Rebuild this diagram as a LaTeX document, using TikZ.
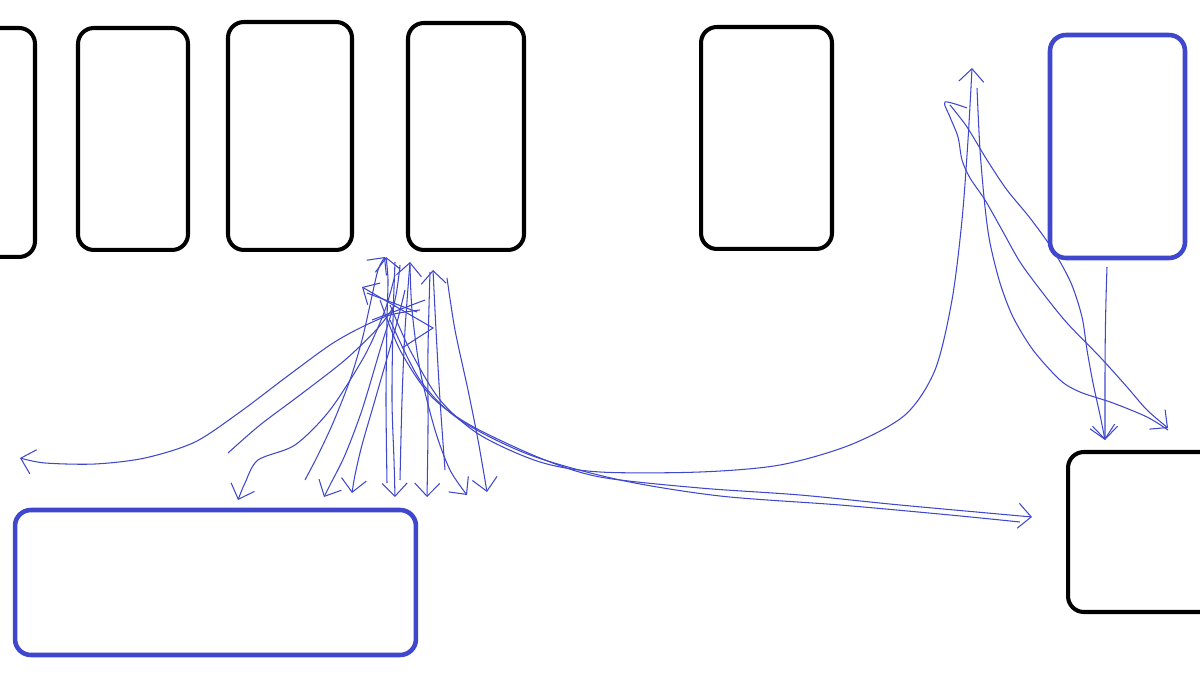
\documentclass[tikz,border=0pt]{standalone}
\usepackage{tikz}
\usetikzlibrary{arrows.meta}
\definecolor{SketchBlue}{HTML}{3F48CC}
\definecolor{NiceBlack}{HTML}{000000}

\tikzset{
  card/.style={draw=NiceBlack, line width=2.3pt, rounded corners=9pt,
    inner sep=0pt},
  bluecard/.style={card, draw=SketchBlue, line width=2.6pt},
  sketch/.style={SketchBlue, line width=0.6pt},
  tip/.style={-{Straight Barb[length=2.6mm,width=5mm]}},
}

\begin{document}
\begin{tikzpicture}[x=0.02cm, y=-0.02cm]
      \useasboundingbox (0,0) rectangle (1200,675);
      % Boxes
      \node[card, minimum width=2.6cm, minimum height=4.58cm] (left) at (-30,142.5) {};
      \node[card, minimum width=2.2cm, minimum height=4.44cm] (boxA) at (133,139) {};
      \node[card, minimum width=2.48cm, minimum height=4.56cm] (boxB) at (290,136) {};
      \node[card, minimum width=2.32cm, minimum height=4.54cm] (boxC) at (466,136.5) {};
      \node[card, minimum width=2.62cm, minimum height=4.44cm] (boxD) at (766.5,138) {};
      \node[bluecard, minimum width=2.7cm, minimum height=4.46cm] (boxE) at (1117.5,146.5) {};
      \node[card, minimum width=4.0cm, minimum height=3.2cm] (boxF) at (1168,532) {};
      \node[bluecard, minimum width=8.02cm, minimum height=2.9cm] (boxG) at (215.5,582.5) {};
      % Fan below box C
      \draw[sketch, tip] plot[smooth] coordinates {(420,310) (390,315) (360,328)
        (330,345) (285,378) (240,412) (195,442) (145,458) (95,464) (45,463) (20,458)};
      \draw[sketch] plot[smooth] coordinates {(228,453) (260,425) (300,395)
        (345,360) (378,328) (395,305)};
      \draw[sketch, tip] plot[smooth] coordinates {(395,275) (385,310) (365,355)
        (330,410) (295,445) (258,460) (245,483) (238,500)};
      \draw[sketch, tip] plot[smooth] coordinates {(305,480) (318,455) (333,423)
        (350,380) (362,340) (370,305) (378,270) (385,257)};
      \draw[sketch, tip] plot[smooth] coordinates {(400,265) (395,300) (380,350)
        (362,410) (345,455) (330,485) (324,497)};
      \draw[sketch, tip] plot[smooth] coordinates {(405,290) (395,330) (375,400)
        (362,445) (355,475) (352,493)};
      \draw[sketch, tip] plot[smooth] coordinates {(395,262) (393,320) (392,400)
        (394,460) (395,497)};
      \draw[sketch, tip] plot[smooth] coordinates {(387,483) (386,400) (387,320)
        (388,280) (386,257)};
      \draw[sketch, tip] plot[smooth] coordinates {(400,480) (402,400) (405,330)
        (410,262)};
      \draw[sketch, tip] plot[smooth] coordinates {(430,272) (428,350) (428,430)
        (427,497)};
      \draw[sketch, tip] plot[smooth] coordinates {(445,470) (440,400) (436,330)
        (433,270)};
      \draw[sketch, tip] plot[smooth] coordinates {(410,265) (412,310) (420,370)
        (435,430) (450,470) (467,495)};
      \draw[sketch, tip] plot[smooth] coordinates {(447,278) (455,330) (468,390)
        (478,440) (487,492)};
      % crossings
      \draw[sketch, tip] (402,348) -- (433,328) -- (362,287);
      \draw[sketch] (367,293) -- (417,312);
      \draw[sketch] (372,320) -- (425,300);
      % Long strokes to the right
      \draw[sketch, tip] plot[smooth] coordinates {(390,305) (410,350) (440,400)
        (480,435) (540,462) (600,472) (700,472) (780,465) (850,445) (905,415)
        (935,370) (952,300) (962,220) (968,140) (972,68)};
      \draw[sketch, tip] plot[smooth] coordinates {(380,300) (400,350) (430,395)
        (470,425) (540,458) (600,477) (700,488) (800,495) (900,505) (1032,517)};
      \draw[sketch] plot[smooth] coordinates {(390,320) (420,380) (460,420)
        (530,455) (620,480) (720,496) (840,505) (950,515) (1020,522)};
      % Right group
      \draw[sketch, tip] plot[smooth] coordinates {(967,108) (945,102) (950,117)
        (958,137) (962,160) (970,178) (985,200) (1002,230) (1020,262) (1042,292)
        (1067,323) (1100,357) (1127,387) (1147,410) (1168,428)};
      \draw[sketch, tip] plot[smooth] coordinates {(950,105) (967,127) (987,160)
        (1007,190) (1030,218) (1053,250) (1071,283) (1082,317) (1087,350)
        (1093,383) (1100,415) (1105,440)};
      \draw[sketch, tip] (1107,267) to[out=-92, in=90] (1105,440);
      \draw[sketch] plot[smooth] coordinates {(977,88) (980,150) (985,207)
        (990,243) (1000,283) (1013,317) (1033,350) (1060,380) (1080,392)
        (1113,403) (1147,417) (1168,430)};
    \end{tikzpicture}
\end{document}
